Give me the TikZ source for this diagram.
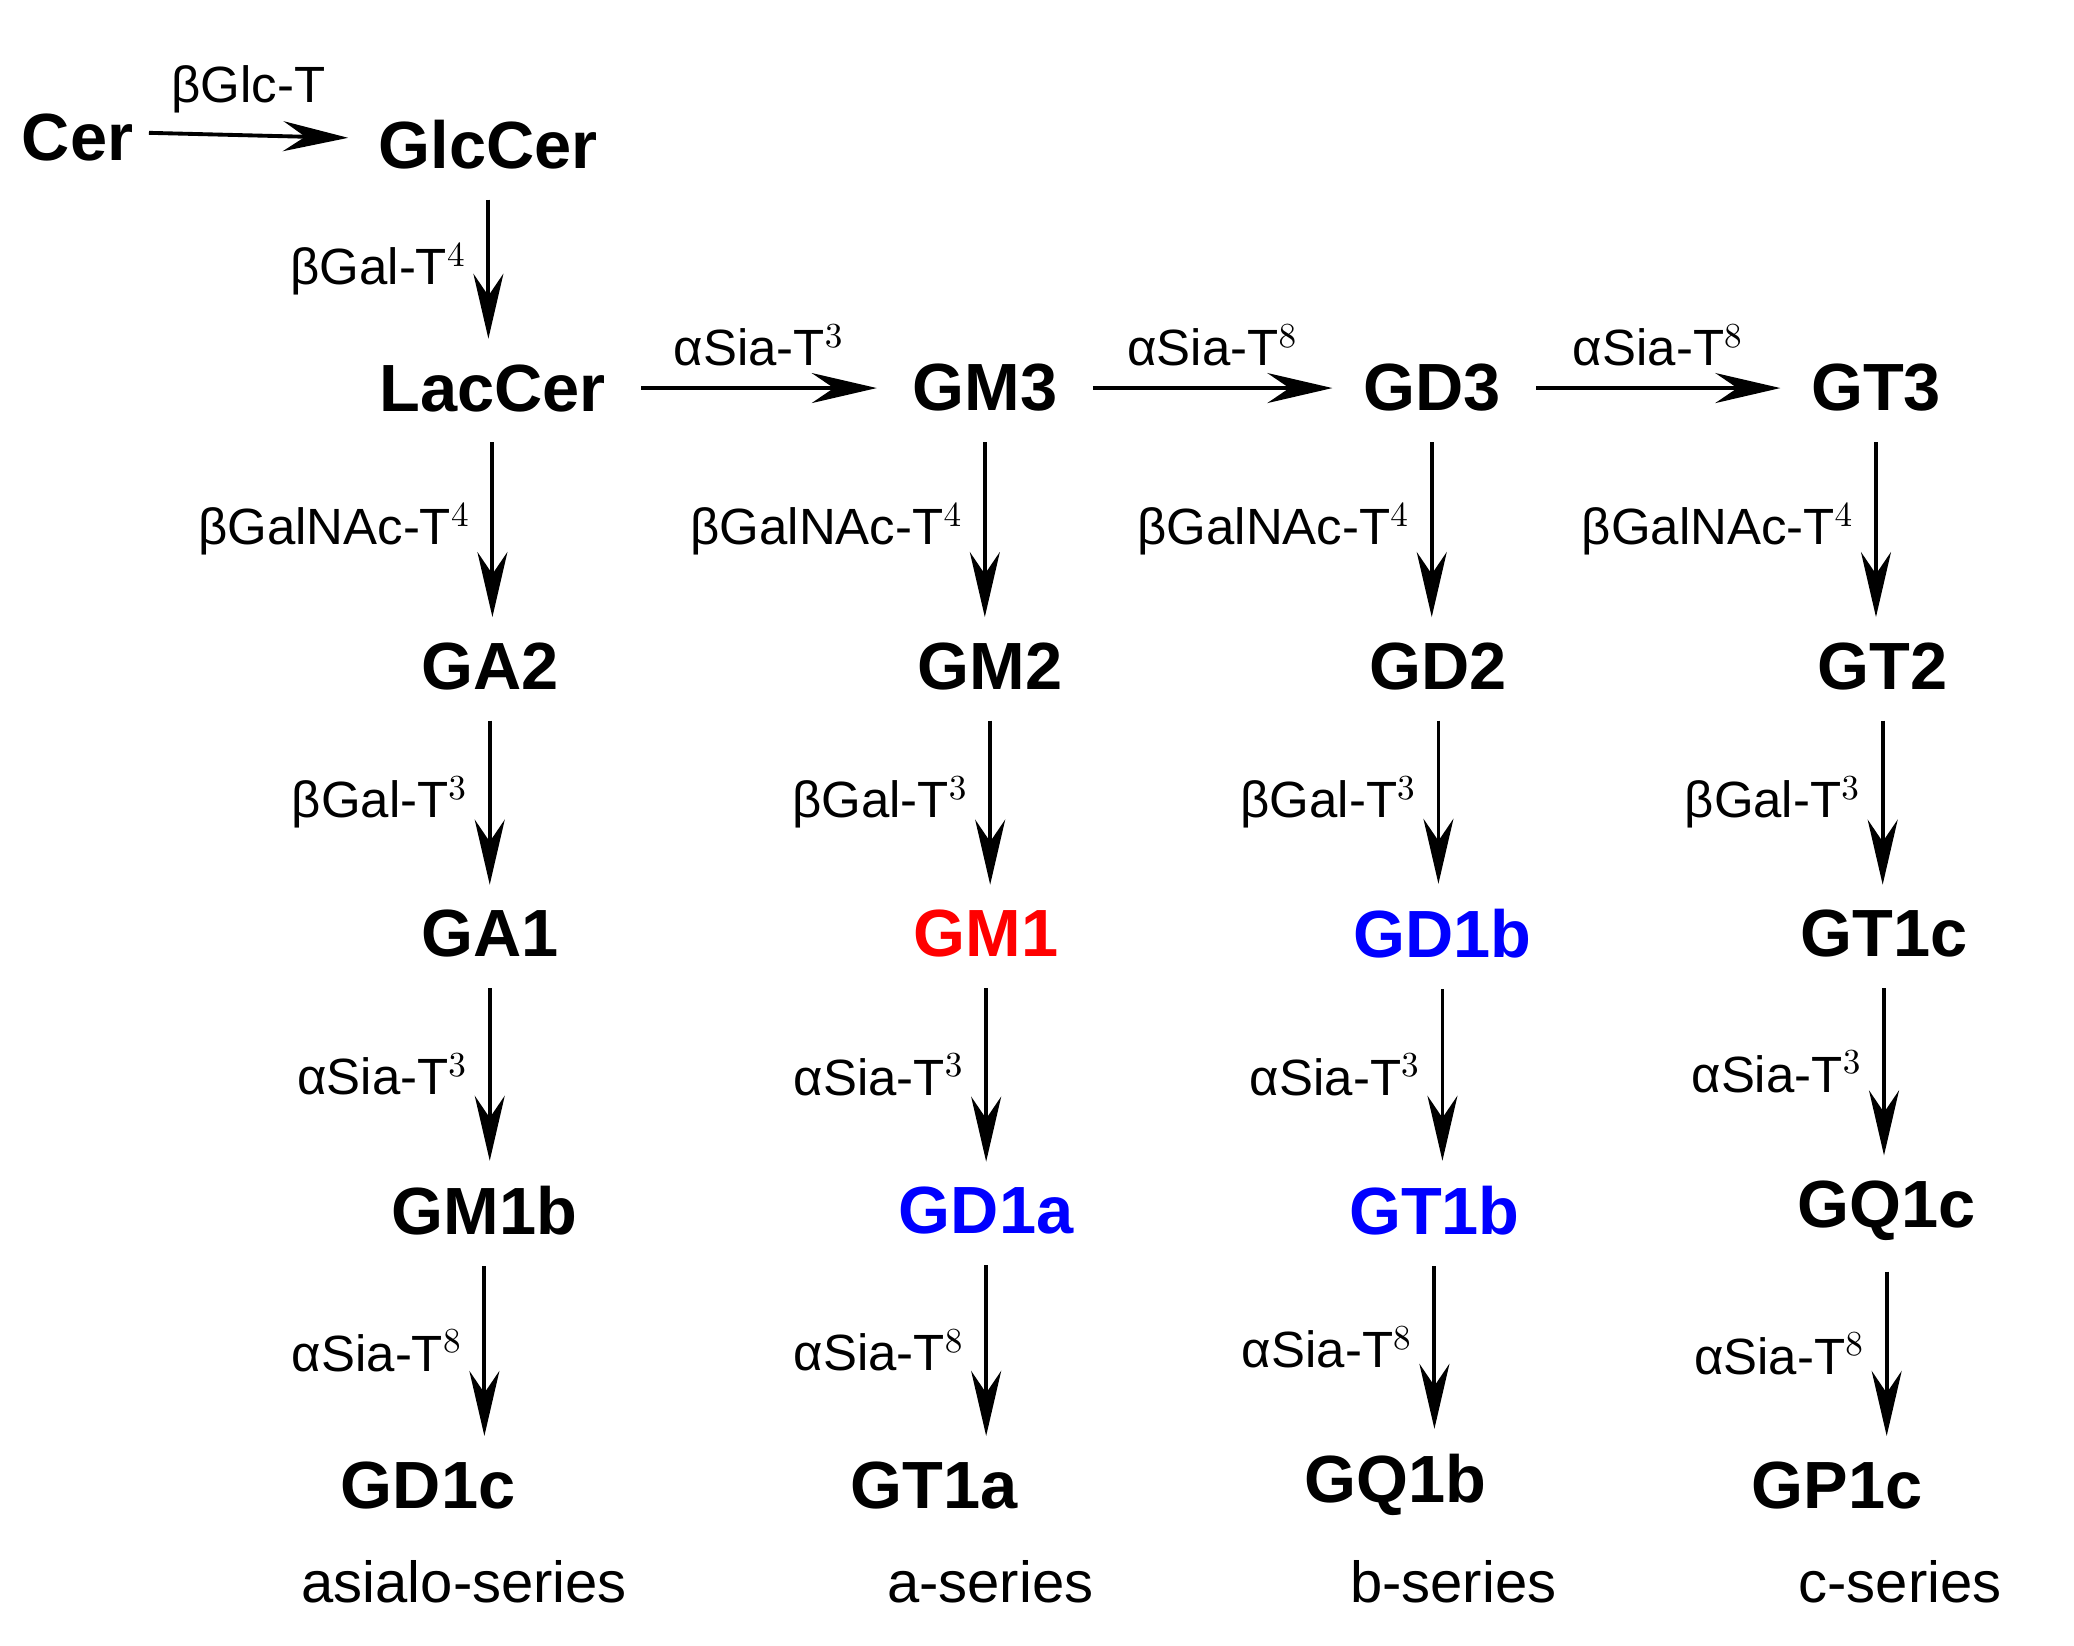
\documentclass[tikz,border=0pt]{standalone}
\usepackage{fontspec}
\setmainfont{Liberation Sans}
\usetikzlibrary{arrows.meta}
\tikzset{
  gang/.style={font=\fontsize{19}{22}\selectfont\bfseries, inner sep=0pt},
  enz/.style={font=\fontsize{14.5}{17}\selectfont, inner sep=0pt},
  ser/.style={font=\fontsize{16.5}{19}\selectfont, inner sep=0pt},
  arr/.style={line width=1.1pt, -{Stealth[length=6.5mm,width=3mm,inset=2.2mm]}}
}
\begin{document}
\begin{tikzpicture}[x=0.01338cm,y=-0.01338cm]
\useasboundingbox (0,0) rectangle (1550,1230);
% first steps
\node[gang] (cer) at (58,103) {Cer};
\node[gang] (glc) at (365,108) {GlcCer};
\node[gang] (lac) at (368,290) {LacCer};
\node[gang] (gm3) at (736,290) {GM3};
\node[gang] (gd3) at (1070,290) {GD3};
\node[gang] (gt3) at (1402,290) {GT3};
%
\node[gang] (ga2) at (366,498) {GA2};
\node[gang] (gm2) at (740,498) {GM2};
\node[gang] (gd2) at (1075,498) {GD2};
\node[gang] (gt2) at (1407,498) {GT2};
%
\node[gang] (ga1) at (366,698) {GA1};
\node[gang, text=red] (gm1) at (737,698) {GM1};
\node[gang, text=blue] (gd1b) at (1078,698) {GD1b};
\node[gang] (gt1c) at (1408,698) {GT1c};
%
\node[gang] (gm1b) at (362,905) {GM1b};
\node[gang, text=blue] (gd1a) at (737,905) {GD1a};
\node[gang, text=blue] (gt1b) at (1072,905) {GT1b};
\node[gang] (gq1c) at (1410,905) {GQ1c};
%
\node[gang] (gd1c) at (320,1110) {GD1c};
\node[gang] (gt1a) at (698,1110) {GT1a};
\node[gang] (gq1b) at (1043,1110) {GQ1b};
\node[gang] (gp1c) at (1373,1110) {GP1c};
%
\node[ser] (s0) at (347,1182) {asialo-series};
\node[ser] (s1) at (740,1182) {a-series};
\node[ser] (s2) at (1086,1182) {b-series};
\node[ser] (s3) at (1420,1182) {c-series};
% horizontal arrows
\draw[arr] ([xshift=0.15cm,yshift=0.05cm]cer.east) -- ([xshift=-0.3cm]cer.east -| glc.west) node[enz, midway, above=0.2cm] {βGlc-T};
\draw[arr] ([xshift=0.35cm]lac.east) -- ([xshift=-0.35cm]gm3.west) node[enz, midway, above=0.2cm] {αSia-T$^{3}$};
\draw[arr] ([xshift=0.35cm]gm3.east) -- ([xshift=-0.3cm]gd3.west) node[enz, midway, above=0.2cm] {αSia-T$^{8}$};
\draw[arr] ([xshift=0.35cm]gd3.east) -- ([xshift=-0.3cm]gt3.west) node[enz, midway, above=0.2cm] {αSia-T$^{8}$};
% vertical arrows
\foreach \a/\b/\t in {glc/lac/βGal-T$^{4}$,
  lac/ga2/βGalNAc-T$^{4}$, gm3/gm2/βGalNAc-T$^{4}$, gd3/gd2/βGalNAc-T$^{4}$, gt3/gt2/βGalNAc-T$^{4}$,
  ga2/ga1/βGal-T$^{3}$, gm2/gm1/βGal-T$^{3}$, gd2/gd1b/βGal-T$^{3}$, gt2/gt1c/βGal-T$^{3}$,
  ga1/gm1b/αSia-T$^{3}$, gm1/gd1a/αSia-T$^{3}$, gd1b/gt1b/αSia-T$^{3}$, gt1c/gq1c/αSia-T$^{3}$,
  gm1b/gd1c/αSia-T$^{8}$, gd1a/gt1a/αSia-T$^{8}$, gt1b/gq1b/αSia-T$^{8}$, gq1c/gp1c/αSia-T$^{8}$}
  \draw[arr] ([yshift=-0.3cm]\a.south) -- ([yshift=0.25cm]\a.south |- \b.north)
    node[enz, midway, left=0.2cm] {\t};
\end{tikzpicture}
\end{document}
